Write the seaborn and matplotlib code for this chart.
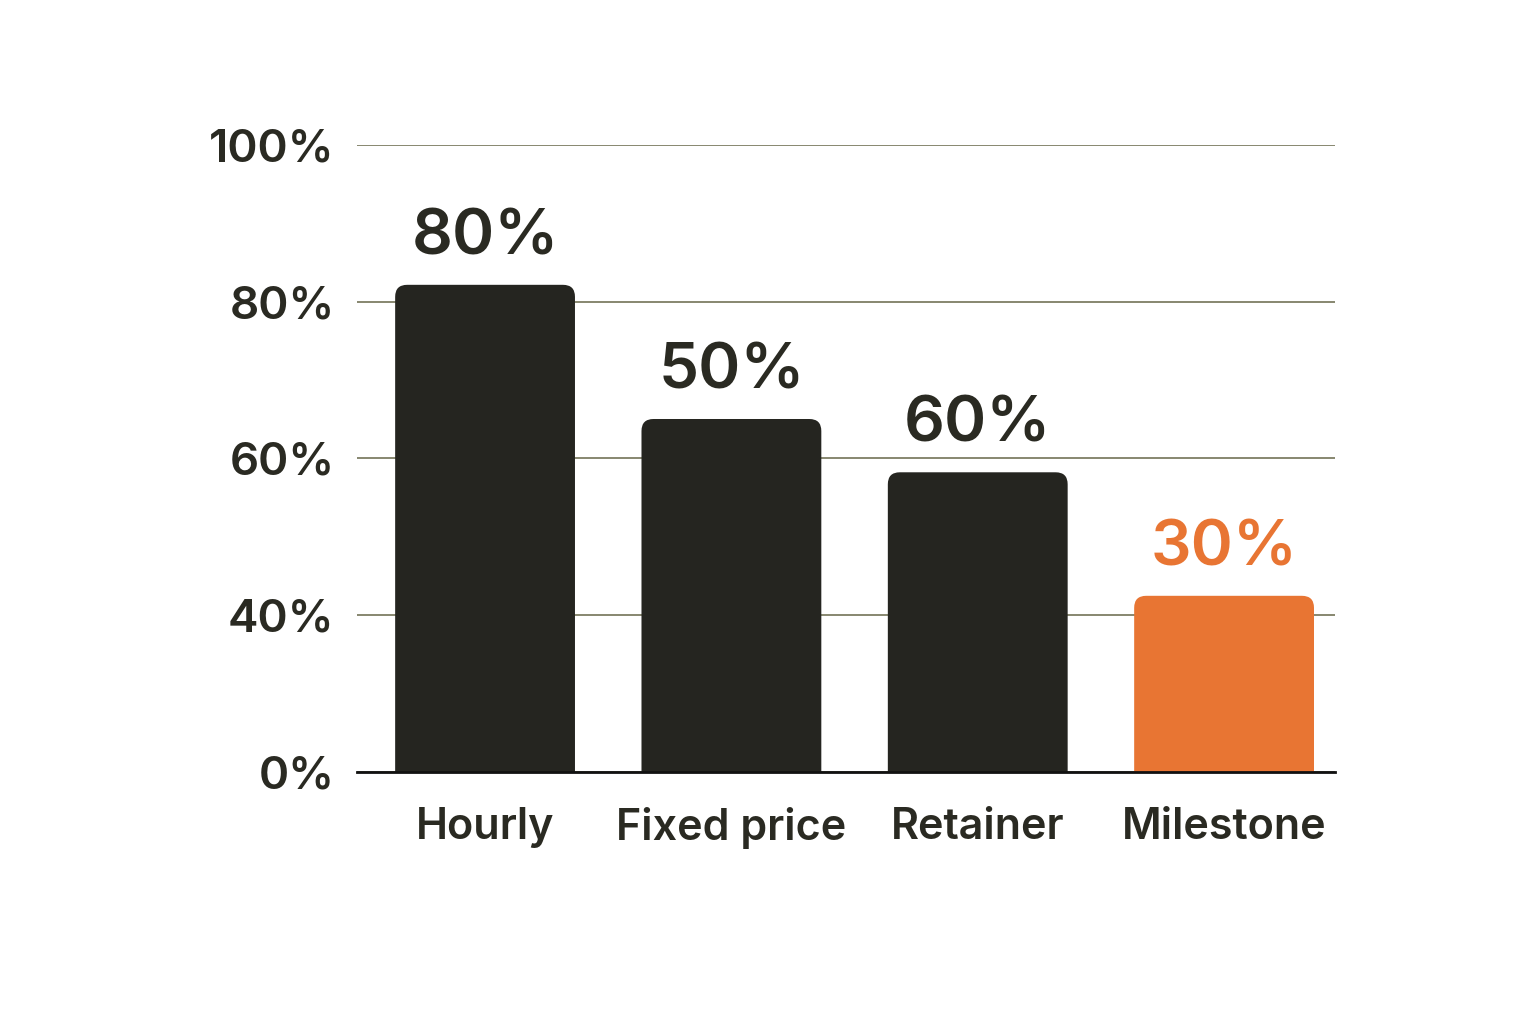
import matplotlib
matplotlib.use("Agg")
import matplotlib.pyplot as plt
import seaborn as sns
import pandas as pd
from matplotlib.patches import FancyBboxPatch

categories = ["Hourly", "Fixed price", "Retainer", "Milestone"]
bar_heights = [77.7, 56.3, 47.8, 28.1]
bar_labels = ["80%", "50%", "60%", "30%"]
tick_values = [0, 25, 50, 75, 100]
tick_labels = ["0%", "40%", "60%", "80%", "100%"]
colors = ["#252520", "#252520", "#252520", "#E87533"]
label_colors = ["#2a2a22", "#2a2a22", "#2a2a22", "#E87533"]

sns.set_theme(style="white")
plt.rcParams['font.family'] = ['Inter', 'DejaVu Sans']

df = pd.DataFrame({"cat": categories, "val": bar_heights})

fig = plt.figure(figsize=(15.36, 10.24), dpi=100)
ax = fig.add_axes([0.2324, 0.2461, 0.6367, 0.6123])

sns.barplot(data=df, x="cat", y="val", hue="cat", palette=colors, legend=False,
            width=0.73, ax=ax, saturation=1)

ax.set_xlim(-0.52, 3.45)
ax.set_ylim(0, 100)

# replace bars with rounded-top bars
fig.canvas.draw()
bbox = ax.get_window_extent()
px_per_x = bbox.width / (3.45 + 0.52)
px_per_y = bbox.height / 100.0
r_px = 12
for p, c in zip(list(ax.patches), colors):
    x0, w, h = p.get_x(), p.get_width(), p.get_height()
    p.remove()
    fb = FancyBboxPatch((x0, -5), w, h + 5,
                        boxstyle=f"round,pad=0,rounding_size={r_px/px_per_x}",
                        mutation_aspect=px_per_x / px_per_y,
                        facecolor=c, edgecolor="none", zorder=3)
    ax.add_patch(fb)

for i, (h, lab, lc) in enumerate(zip(bar_heights, bar_labels, label_colors)):
    ax.text(i, h + 2.8, lab, ha="center", va="bottom", fontsize=46,
            fontweight="semibold", color=lc)

ax.set_yticks(tick_values)
ax.set_yticklabels(tick_labels)
ax.tick_params(axis="y", length=0, pad=16, labelsize=33, labelcolor="#2a2a22")
ax.tick_params(axis="x", length=0, pad=25, labelsize=31, labelcolor="#2a2a22")
for t in ax.get_xticklabels():
    t.set_fontweight("semibold")
for t in ax.get_yticklabels():
    t.set_fontweight("semibold")
ax.set_xlabel("")
ax.set_ylabel("")

ax.yaxis.grid(True, color="#737357", linewidth=1.2)
ax.set_axisbelow(True)
for s in ["top", "right", "left"]:
    ax.spines[s].set_visible(False)
ax.spines["bottom"].set_color("#111111")
ax.spines["bottom"].set_linewidth(2)
ax.spines["bottom"].set_zorder(4)

fig.savefig("out.png", dpi=100, facecolor="white")
